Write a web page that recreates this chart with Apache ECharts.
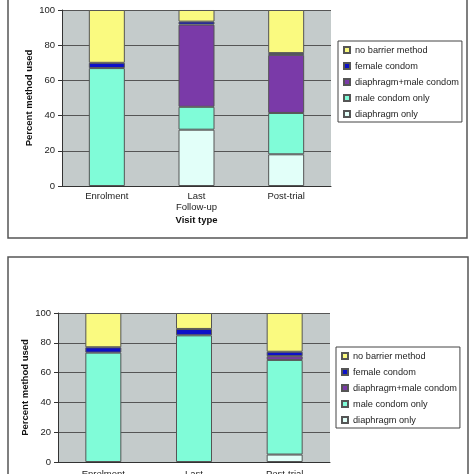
<!DOCTYPE html>
<html>
<head>
<meta charset="utf-8">
<script src="https://cdn.jsdelivr.net/npm/echarts@6/dist/echarts.min.js"></script>
<style>
  html, body { margin: 0; padding: 0; background: #fff; }
  #chart { width: 474px; height: 474px; }
</style>
</head>
<body>
<div id="chart"></div>
<script>
// visit types on the x axis
const categories = ['Enrolment', 'Last\nFollow-up', 'Post-trial'];
const seriesNames = ['diaphragm only', 'male condom only', 'diaphragm+male condom', 'female condom', 'no barrier method'];
const legendOrder = ['no barrier method', 'female condom', 'diaphragm+male condom', 'male condom only', 'diaphragm only'];
const yTicks = [0, 20, 40, 60, 80, 100];

// top panel (percent)
const topDiaphragmOnly = [0, 32, 18];
const topMaleOnly = [67, 13, 23.5];
const topDiaphMale = [0, 46.7, 33];
const topFemale = [3, 1.7, 1];
const topNoBarrier = [30, 6.6, 24.5];

// bottom panel (percent)
const botDiaphragmOnly = [0, 0, 5];
const botMaleOnly = [73.4, 85, 63.5];
const botDiaphMale = [0, 0, 2.5];
const botFemale = [3.6, 4.3, 3];
const botNoBarrier = [23, 10.7, 26];

const colors = {
  'diaphragm only': '#e2fff9',
  'male condom only': '#80fcd8',
  'diaphragm+male condom': '#7a3aa8',
  'female condom': '#0c10c8',
  'no barrier method': '#fafa80'
};

const topData = [topDiaphragmOnly, topMaleOnly, topDiaphMale, topFemale, topNoBarrier];
const botData = [botDiaphragmOnly, botMaleOnly, botDiaphMale, botFemale, botNoBarrier];

const font = '"Liberation Sans", Arial, sans-serif';
const fs = 9.5;

function makeSeries(data, idx) {
  return seriesNames.map((name, i) => ({
    name: name,
    type: 'bar',
    stack: 'p' + idx,
    xAxisIndex: idx,
    yAxisIndex: idx,
    barWidth: 36,
    itemStyle: { color: colors[name], borderColor: '#555', borderWidth: 1 },
    // empty segments are not drawn at all
    data: data[i].map(v => v === 0 ? '-' : v)
  }));
}

function makeX(idx, withName, margin) {
  return {
    type: 'category',
    gridIndex: idx,
    data: categories,
    name: withName ? 'Visit type' : '',
    nameLocation: 'middle',
    nameGap: 29,
    nameMoveOverlap: false,
    nameTextStyle: { fontFamily: font, fontSize: fs, fontWeight: 'bold', color: '#111' },
    axisLine: { lineStyle: { color: '#333', width: 1 } },
    axisTick: { length: 4, lineStyle: { color: '#333' } },
    axisLabel: { fontFamily: font, fontSize: fs, color: '#222', margin: margin, lineHeight: 11, interval: 0 }
  };
}

function makeY(idx) {
  return {
    type: 'value',
    gridIndex: idx,
    min: 0,
    max: 100,
    interval: 20,
    name: 'Percent method used',
    nameLocation: 'middle',
    nameGap: 28,
    nameMoveOverlap: false,
    nameTextStyle: { fontFamily: font, fontSize: fs, fontWeight: 'bold', color: '#111' },
    axisLine: { show: true, lineStyle: { color: '#333', width: 1 } },
    axisTick: { show: true, length: 4, lineStyle: { color: '#333' } },
    axisLabel: { fontFamily: font, fontSize: fs, color: '#222', margin: 7,
      formatter: v => yTicks.includes(v) ? String(v) : '' },
    splitLine: { lineStyle: { color: '#555', width: 1 } }
  };
}

function makeLegend(left, top) {
  return {
    data: legendOrder,
    orient: 'vertical',
    left: left,
    top: top,
    padding: [3, 3, 2, 5],
    itemGap: 4,
    itemWidth: 6,
    itemHeight: 6,
    icon: 'rect',
    selectedMode: false,
    backgroundColor: '#fff',
    borderColor: '#444',
    borderWidth: 1,
    textStyle: { fontFamily: font, fontSize: 9.2, color: '#222', lineHeight: 12 }
  };
}

const chart = echarts.init(document.getElementById('chart'), null, { renderer: 'canvas' });
chart.setOption({
  animation: false,
  backgroundColor: '#fff',
  graphic: [
    { type: 'rect', shape: { x: 8, y: -6, width: 459, height: 244 },
      style: { fill: 'none', stroke: '#555', lineWidth: 1.5 }, z: -1 },
    { type: 'rect', shape: { x: 8, y: 257, width: 460, height: 230 },
      style: { fill: 'none', stroke: '#555', lineWidth: 1.5 }, z: -1 }
  ],
  grid: [
    { left: 62, top: 10, width: 269, height: 176, show: true, backgroundColor: '#c4cbcb', borderWidth: 0, outerBoundsMode: 'none' },
    { left: 58, top: 313, width: 272, height: 149, show: true, backgroundColor: '#c4cbcb', borderWidth: 0, outerBoundsMode: 'none' }
  ],
  legend: [makeLegend(338, 41), makeLegend(336, 347)],
  xAxis: [makeX(0, true, 5), makeX(1, false, 7)],
  yAxis: [makeY(0), makeY(1)],
  series: makeSeries(topData, 0).concat(makeSeries(botData, 1))
});
</script>
</body>
</html>
